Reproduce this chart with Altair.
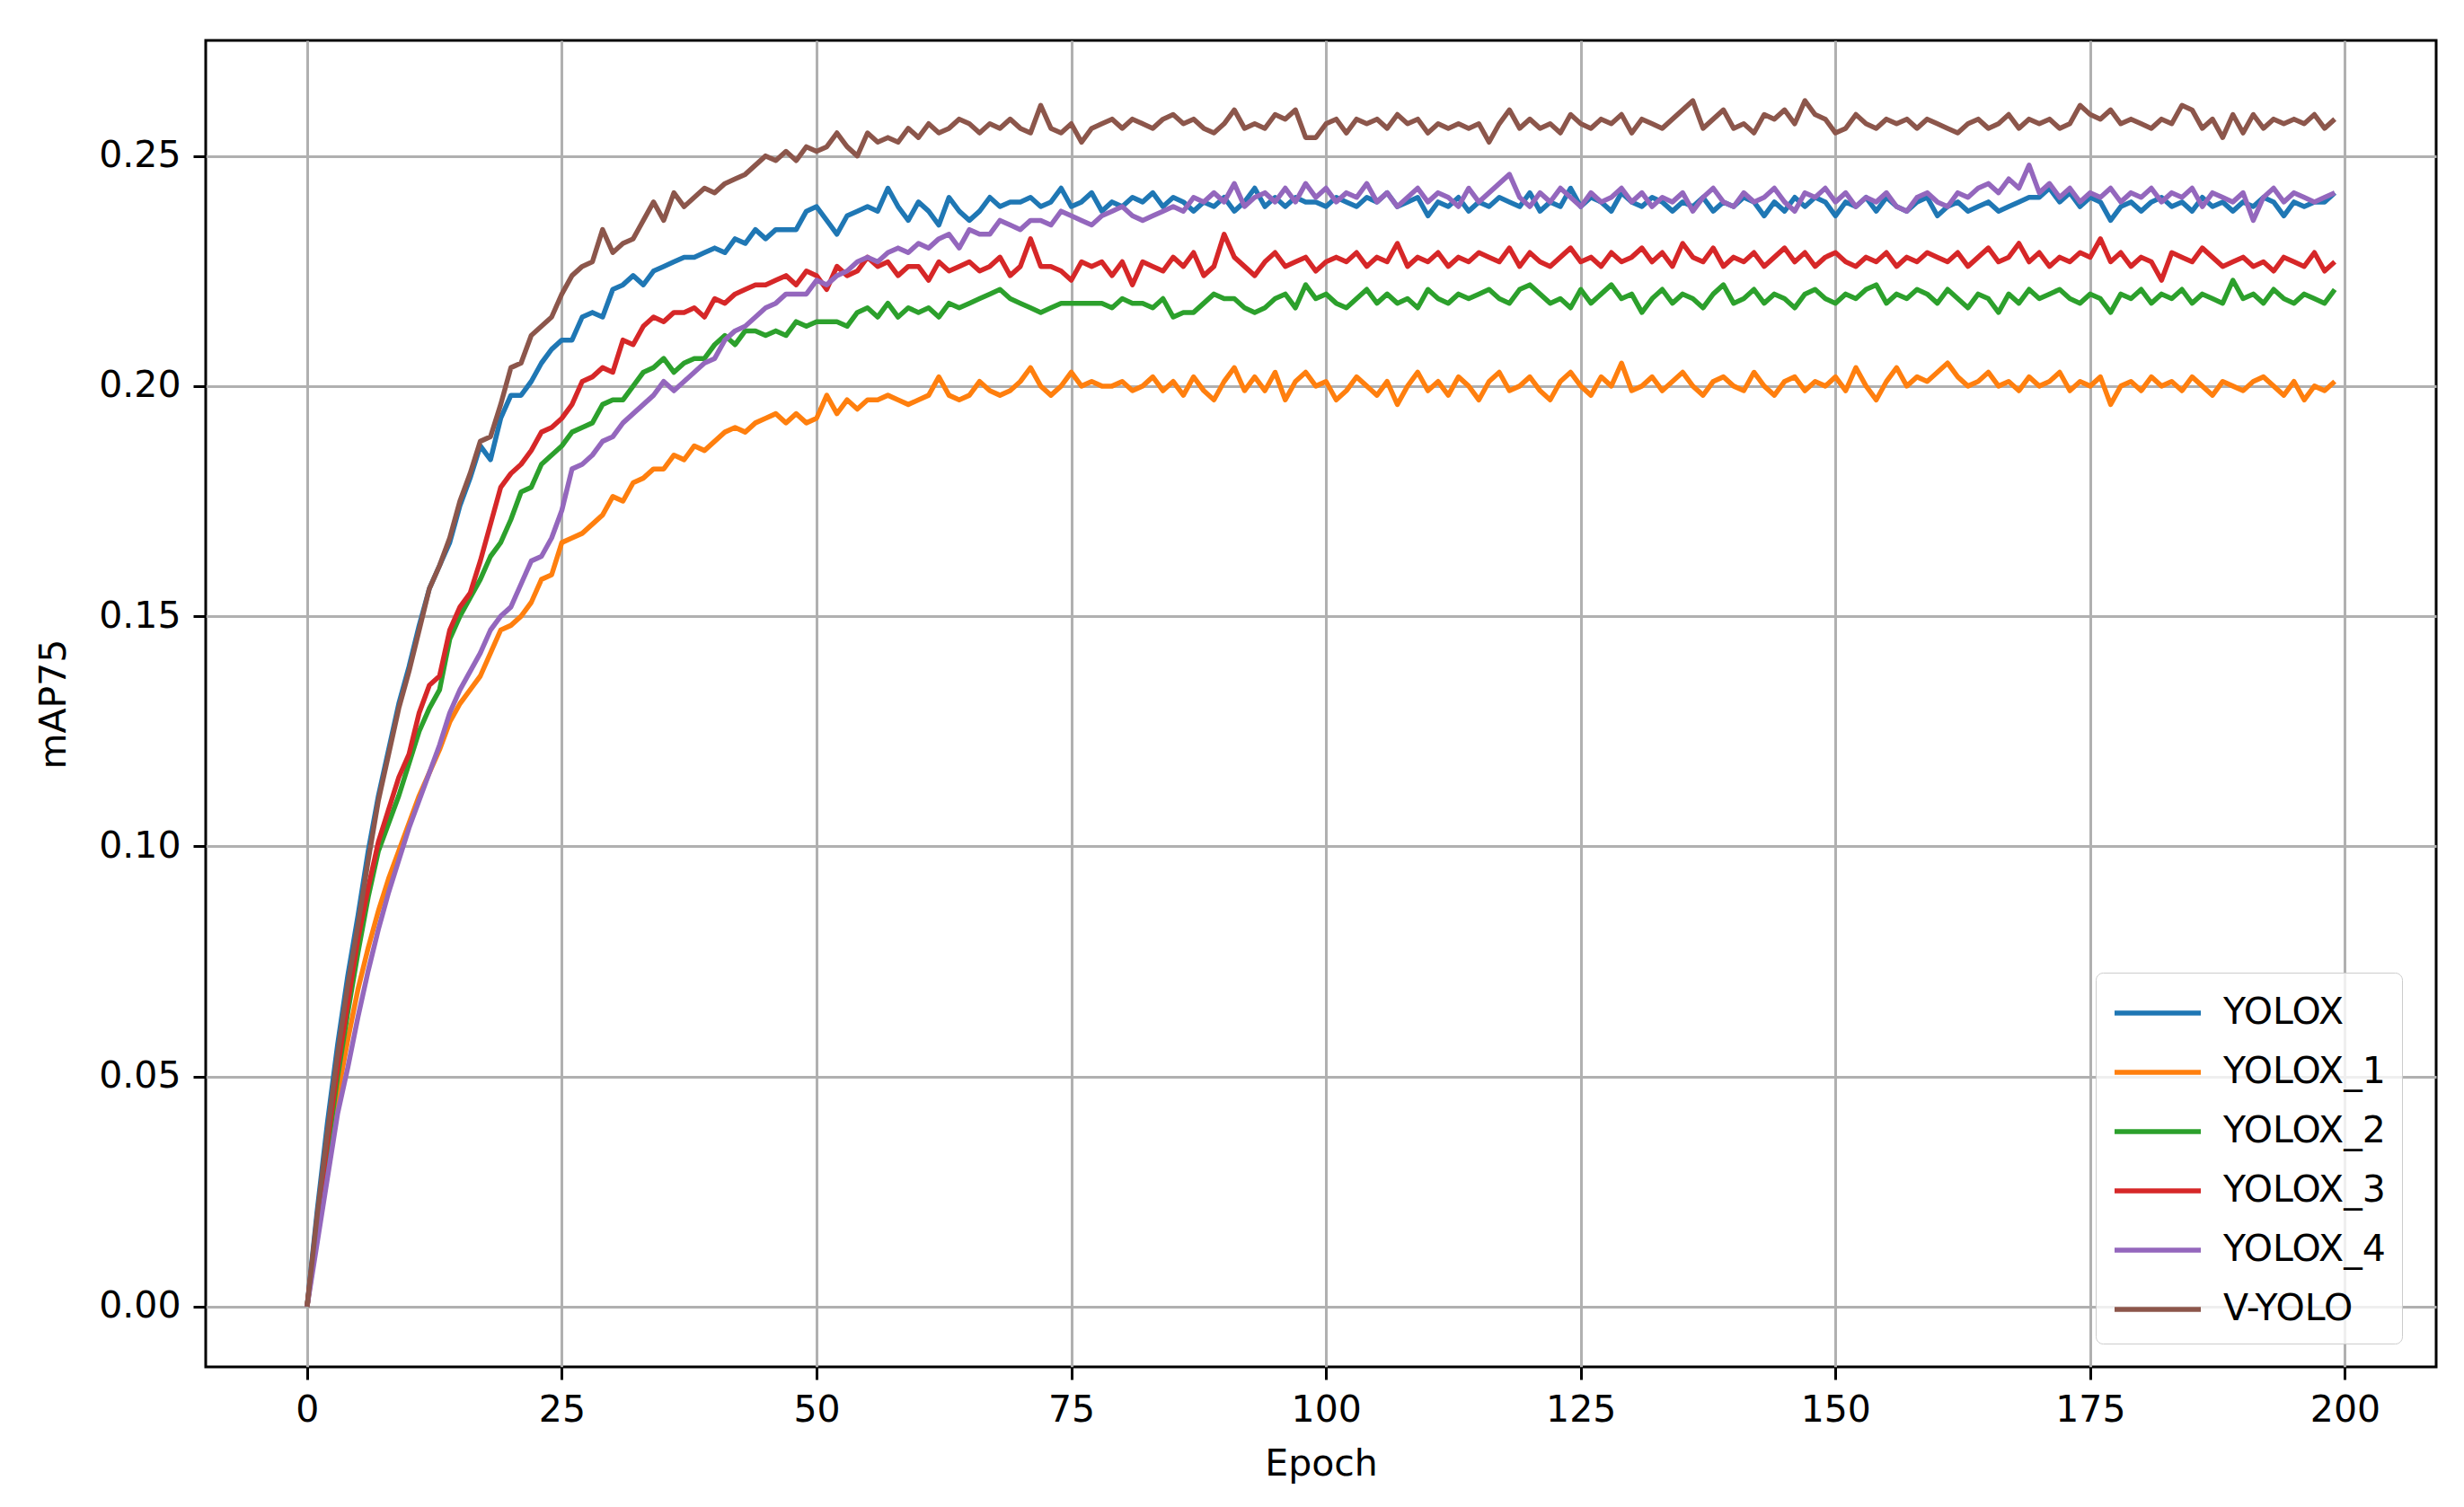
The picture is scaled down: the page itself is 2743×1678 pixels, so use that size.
import altair as alt
import pandas as pd

series_names = ["YOLOX", "YOLOX_1", "YOLOX_2", "YOLOX_3", "YOLOX_4", "V-YOLO"]
series_colors = ["#1f77b4", "#ff7f0e", "#2ca02c", "#d62728", "#9467bd", "#8c564b"]
epochs = list(range(200))

yolox = [
    0.0, 0.021, 0.040, 0.057, 0.072, 0.085, 0.099, 0.111, 0.121, 0.131,
    0.139, 0.148, 0.156, 0.161, 0.166, 0.174, 0.180, 0.187, 0.184, 0.193,
    0.198, 0.198, 0.201, 0.205, 0.208, 0.210, 0.210, 0.215, 0.216, 0.215,
    0.221, 0.222, 0.224, 0.222, 0.225, 0.226, 0.227, 0.228, 0.228, 0.229,
    0.230, 0.229, 0.232, 0.231, 0.234, 0.232, 0.234, 0.234, 0.234, 0.238,
    0.239, 0.236, 0.233, 0.237, 0.238, 0.239, 0.238, 0.243, 0.239, 0.236,
    0.240, 0.238, 0.235, 0.241, 0.238, 0.236, 0.238, 0.241, 0.239, 0.240,
    0.240, 0.241, 0.239, 0.240, 0.243, 0.239, 0.240, 0.242, 0.238, 0.240,
    0.239, 0.241, 0.240, 0.242, 0.239, 0.241, 0.240, 0.238, 0.240, 0.239,
    0.241, 0.238, 0.240, 0.243, 0.239, 0.241, 0.239, 0.241, 0.240, 0.240,
    0.239, 0.241, 0.240, 0.239, 0.241, 0.240, 0.242, 0.239, 0.240, 0.241,
    0.237, 0.240, 0.239, 0.241, 0.238, 0.240, 0.239, 0.241, 0.240, 0.239,
    0.242, 0.238, 0.240, 0.239, 0.243, 0.239, 0.241, 0.240, 0.238, 0.242,
    0.240, 0.239, 0.241, 0.240, 0.238, 0.240, 0.239, 0.241, 0.238, 0.240,
    0.239, 0.241, 0.240, 0.237, 0.240, 0.238, 0.241, 0.239, 0.241, 0.240,
    0.237, 0.240, 0.239, 0.241, 0.238, 0.241, 0.239, 0.238, 0.240, 0.241,
    0.237, 0.239, 0.240, 0.238, 0.239, 0.240, 0.238, 0.239, 0.240, 0.241,
    0.241, 0.243, 0.240, 0.242, 0.239, 0.241, 0.240, 0.236, 0.239, 0.240,
    0.238, 0.240, 0.241, 0.239, 0.240, 0.238, 0.241, 0.239, 0.240, 0.238,
    0.240, 0.239, 0.241, 0.240, 0.237, 0.240, 0.239, 0.240, 0.240, 0.242,
]

yolox_1 = [
    0.0, 0.016, 0.032, 0.046, 0.058, 0.069, 0.078, 0.086, 0.093, 0.099,
    0.105, 0.111, 0.116, 0.121, 0.127, 0.131, 0.134, 0.137, 0.142, 0.147,
    0.148, 0.150, 0.153, 0.158, 0.159, 0.166, 0.167, 0.168, 0.170, 0.172,
    0.176, 0.175, 0.179, 0.180, 0.182, 0.182, 0.185, 0.184, 0.187, 0.186,
    0.188, 0.190, 0.191, 0.190, 0.192, 0.193, 0.194, 0.192, 0.194, 0.192,
    0.193, 0.198, 0.194, 0.197, 0.195, 0.197, 0.197, 0.198, 0.197, 0.196,
    0.197, 0.198, 0.202, 0.198, 0.197, 0.198, 0.201, 0.199, 0.198, 0.199,
    0.201, 0.204, 0.200, 0.198, 0.200, 0.203, 0.200, 0.201, 0.200, 0.200,
    0.201, 0.199, 0.200, 0.202, 0.199, 0.201, 0.198, 0.202, 0.199, 0.197,
    0.201, 0.204, 0.199, 0.202, 0.199, 0.203, 0.197, 0.201, 0.203, 0.200,
    0.201, 0.197, 0.199, 0.202, 0.200, 0.198, 0.201, 0.196, 0.200, 0.203,
    0.199, 0.201, 0.198, 0.202, 0.200, 0.197, 0.201, 0.203, 0.199, 0.200,
    0.202, 0.199, 0.197, 0.201, 0.203, 0.200, 0.198, 0.202, 0.200, 0.205,
    0.199, 0.200, 0.202, 0.199, 0.201, 0.203, 0.200, 0.198, 0.201, 0.202,
    0.200, 0.199, 0.203, 0.200, 0.198, 0.201, 0.202, 0.199, 0.201, 0.200,
    0.202, 0.199, 0.204, 0.200, 0.197, 0.201, 0.204, 0.200, 0.202, 0.201,
    0.203, 0.205, 0.202, 0.200, 0.201, 0.203, 0.200, 0.201, 0.199, 0.202,
    0.200, 0.201, 0.203, 0.199, 0.201, 0.200, 0.202, 0.196, 0.200, 0.201,
    0.199, 0.202, 0.200, 0.201, 0.199, 0.202, 0.200, 0.198, 0.201, 0.200,
    0.199, 0.201, 0.202, 0.200, 0.198, 0.201, 0.197, 0.200, 0.199, 0.201,
]

yolox_2 = [
    0.0, 0.018, 0.034, 0.050, 0.064, 0.077, 0.089, 0.099, 0.105, 0.111,
    0.118, 0.125, 0.130, 0.134, 0.145, 0.150, 0.154, 0.158, 0.163, 0.166,
    0.171, 0.177, 0.178, 0.183, 0.185, 0.187, 0.190, 0.191, 0.192, 0.196,
    0.197, 0.197, 0.200, 0.203, 0.204, 0.206, 0.203, 0.205, 0.206, 0.206,
    0.209, 0.211, 0.209, 0.212, 0.212, 0.211, 0.212, 0.211, 0.214, 0.213,
    0.214, 0.214, 0.214, 0.213, 0.216, 0.217, 0.215, 0.218, 0.215, 0.217,
    0.216, 0.217, 0.215, 0.218, 0.217, 0.218, 0.219, 0.220, 0.221, 0.219,
    0.218, 0.217, 0.216, 0.217, 0.218, 0.218, 0.218, 0.218, 0.218, 0.217,
    0.219, 0.218, 0.218, 0.217, 0.219, 0.215, 0.216, 0.216, 0.218, 0.220,
    0.219, 0.219, 0.217, 0.216, 0.217, 0.219, 0.220, 0.217, 0.222, 0.219,
    0.220, 0.218, 0.217, 0.219, 0.221, 0.218, 0.220, 0.218, 0.219, 0.217,
    0.221, 0.219, 0.218, 0.220, 0.219, 0.220, 0.221, 0.219, 0.218, 0.221,
    0.222, 0.220, 0.218, 0.219, 0.217, 0.221, 0.218, 0.220, 0.222, 0.219,
    0.220, 0.216, 0.219, 0.221, 0.218, 0.220, 0.219, 0.217, 0.220, 0.222,
    0.218, 0.219, 0.221, 0.218, 0.220, 0.219, 0.217, 0.220, 0.221, 0.219,
    0.218, 0.220, 0.219, 0.221, 0.222, 0.218, 0.220, 0.219, 0.221, 0.220,
    0.218, 0.221, 0.219, 0.217, 0.220, 0.219, 0.216, 0.220, 0.218, 0.221,
    0.219, 0.220, 0.221, 0.219, 0.218, 0.220, 0.219, 0.216, 0.220, 0.219,
    0.221, 0.218, 0.220, 0.219, 0.221, 0.218, 0.220, 0.219, 0.218, 0.223,
    0.219, 0.220, 0.218, 0.221, 0.219, 0.218, 0.220, 0.219, 0.218, 0.221,
]

yolox_3 = [
    0.0, 0.019, 0.036, 0.052, 0.066, 0.080, 0.091, 0.101, 0.108, 0.115,
    0.120, 0.129, 0.135, 0.137, 0.147, 0.152, 0.155, 0.162, 0.170, 0.178,
    0.181, 0.183, 0.186, 0.190, 0.191, 0.193, 0.196, 0.201, 0.202, 0.204,
    0.203, 0.210, 0.209, 0.213, 0.215, 0.214, 0.216, 0.216, 0.217, 0.215,
    0.219, 0.218, 0.220, 0.221, 0.222, 0.222, 0.223, 0.224, 0.222, 0.225,
    0.224, 0.221, 0.226, 0.224, 0.225, 0.228, 0.226, 0.227, 0.224, 0.226,
    0.226, 0.223, 0.227, 0.225, 0.226, 0.227, 0.225, 0.226, 0.228, 0.224,
    0.226, 0.232, 0.226, 0.226, 0.225, 0.223, 0.227, 0.226, 0.227, 0.224,
    0.227, 0.222, 0.227, 0.226, 0.225, 0.228, 0.226, 0.229, 0.224, 0.226,
    0.233, 0.228, 0.226, 0.224, 0.227, 0.229, 0.226, 0.227, 0.228, 0.225,
    0.227, 0.228, 0.227, 0.229, 0.226, 0.228, 0.227, 0.231, 0.226, 0.228,
    0.227, 0.229, 0.226, 0.228, 0.227, 0.229, 0.228, 0.227, 0.230, 0.226,
    0.229, 0.227, 0.226, 0.228, 0.230, 0.227, 0.228, 0.226, 0.229, 0.227,
    0.228, 0.230, 0.227, 0.229, 0.226, 0.231, 0.228, 0.227, 0.230, 0.226,
    0.228, 0.227, 0.229, 0.226, 0.228, 0.230, 0.227, 0.229, 0.226, 0.228,
    0.229, 0.227, 0.226, 0.228, 0.227, 0.229, 0.226, 0.228, 0.227, 0.229,
    0.228, 0.227, 0.229, 0.226, 0.228, 0.230, 0.227, 0.228, 0.231, 0.227,
    0.229, 0.226, 0.228, 0.227, 0.229, 0.228, 0.232, 0.227, 0.229, 0.226,
    0.228, 0.227, 0.223, 0.229, 0.228, 0.227, 0.230, 0.228, 0.226, 0.227,
    0.228, 0.226, 0.227, 0.225, 0.228, 0.227, 0.226, 0.229, 0.225, 0.227,
]

yolox_4 = [
    0.0, 0.014, 0.028, 0.042, 0.052, 0.063, 0.073, 0.082, 0.090, 0.097,
    0.104, 0.110, 0.116, 0.122, 0.129, 0.134, 0.138, 0.142, 0.147, 0.150,
    0.152, 0.157, 0.162, 0.163, 0.167, 0.173, 0.182, 0.183, 0.185, 0.188,
    0.189, 0.192, 0.194, 0.196, 0.198, 0.201, 0.199, 0.201, 0.203, 0.205,
    0.206, 0.210, 0.212, 0.213, 0.215, 0.217, 0.218, 0.220, 0.220, 0.220,
    0.223, 0.222, 0.224, 0.225, 0.227, 0.228, 0.227, 0.229, 0.230, 0.229,
    0.231, 0.230, 0.232, 0.233, 0.230, 0.234, 0.233, 0.233, 0.236, 0.235,
    0.234, 0.236, 0.236, 0.235, 0.238, 0.237, 0.236, 0.235, 0.237, 0.238,
    0.239, 0.237, 0.236, 0.237, 0.238, 0.239, 0.238, 0.241, 0.240, 0.242,
    0.240, 0.244, 0.239, 0.241, 0.242, 0.240, 0.243, 0.240, 0.244, 0.241,
    0.243, 0.240, 0.242, 0.241, 0.244, 0.240, 0.242, 0.239, 0.241, 0.243,
    0.240, 0.242, 0.241, 0.239, 0.243, 0.240, 0.242, 0.244, 0.246, 0.241,
    0.239, 0.242, 0.240, 0.243, 0.241, 0.239, 0.242, 0.240, 0.241, 0.243,
    0.240, 0.242, 0.239, 0.241, 0.240, 0.242, 0.238, 0.241, 0.243, 0.240,
    0.239, 0.242, 0.240, 0.241, 0.243, 0.240, 0.238, 0.242, 0.241, 0.243,
    0.240, 0.242, 0.239, 0.241, 0.240, 0.242, 0.239, 0.238, 0.241, 0.242,
    0.240, 0.239, 0.242, 0.241, 0.243, 0.244, 0.242, 0.245, 0.243, 0.248,
    0.242, 0.244, 0.241, 0.243, 0.240, 0.242, 0.241, 0.243, 0.240, 0.242,
    0.241, 0.243, 0.240, 0.242, 0.241, 0.243, 0.239, 0.242, 0.241, 0.240,
    0.242, 0.236, 0.241, 0.243, 0.240, 0.242, 0.241, 0.240, 0.241, 0.242,
]

v_yolo = [
    0.0, 0.020, 0.038, 0.055, 0.070, 0.083, 0.097, 0.110, 0.120, 0.130,
    0.138, 0.147, 0.156, 0.161, 0.167, 0.175, 0.181, 0.188, 0.189, 0.196,
    0.204, 0.205, 0.211, 0.213, 0.215, 0.220, 0.224, 0.226, 0.227, 0.234,
    0.229, 0.231, 0.232, 0.236, 0.240, 0.236, 0.242, 0.239, 0.241, 0.243,
    0.242, 0.244, 0.245, 0.246, 0.248, 0.250, 0.249, 0.251, 0.249, 0.252,
    0.251, 0.252, 0.255, 0.252, 0.250, 0.255, 0.253, 0.254, 0.253, 0.256,
    0.254, 0.257, 0.255, 0.256, 0.258, 0.257, 0.255, 0.257, 0.256, 0.258,
    0.256, 0.255, 0.261, 0.256, 0.255, 0.257, 0.253, 0.256, 0.257, 0.258,
    0.256, 0.258, 0.257, 0.256, 0.258, 0.259, 0.257, 0.258, 0.256, 0.255,
    0.257, 0.260, 0.256, 0.257, 0.256, 0.259, 0.258, 0.260, 0.254, 0.254,
    0.257, 0.258, 0.255, 0.258, 0.257, 0.258, 0.256, 0.259, 0.257, 0.258,
    0.255, 0.257, 0.256, 0.257, 0.256, 0.257, 0.253, 0.257, 0.260, 0.256,
    0.258, 0.256, 0.257, 0.255, 0.259, 0.257, 0.256, 0.258, 0.257, 0.259,
    0.255, 0.258, 0.257, 0.256, 0.258, 0.260, 0.262, 0.256, 0.258, 0.260,
    0.256, 0.257, 0.255, 0.259, 0.258, 0.260, 0.257, 0.262, 0.259, 0.258,
    0.255, 0.256, 0.259, 0.257, 0.256, 0.258, 0.257, 0.258, 0.256, 0.258,
    0.257, 0.256, 0.255, 0.257, 0.258, 0.256, 0.257, 0.259, 0.256, 0.258,
    0.257, 0.258, 0.256, 0.257, 0.261, 0.259, 0.258, 0.260, 0.257, 0.258,
    0.257, 0.256, 0.258, 0.257, 0.261, 0.260, 0.256, 0.258, 0.254, 0.259,
    0.255, 0.259, 0.256, 0.258, 0.257, 0.258, 0.257, 0.259, 0.256, 0.258,
]

x_ticks = [0, 25, 50, 75, 100, 125, 150, 175, 200]
y_ticks = [0.0, 0.05, 0.10, 0.15, 0.20, 0.25]

all_series = [yolox, yolox_1, yolox_2, yolox_3, yolox_4, v_yolo]
rows = []
for name, vals in zip(series_names, all_series):
    for e, v in zip(epochs, vals):
        rows.append({"Epoch": e, "mAP75": v, "model": name})
df = pd.DataFrame(rows)

FONT = "DejaVu Sans"

chart = (
    alt.Chart(df)
    .mark_line(strokeWidth=5.5, strokeJoin="round")
    .encode(
        x=alt.X(
            "Epoch:Q",
            scale=alt.Scale(domain=[-9.95, 208.95], nice=False, zero=False),
            axis=alt.Axis(values=x_ticks, format="d", title="Epoch"),
        ),
        y=alt.Y(
            "mAP75:Q",
            scale=alt.Scale(domain=[-0.0131, 0.2751], nice=False, zero=False),
            axis=alt.Axis(values=y_ticks, format=".2f", title="mAP75"),
        ),
        color=alt.Color(
            "model:N",
            scale=alt.Scale(domain=series_names, range=series_colors),
            legend=alt.Legend(
                title=None,
                orient="none",
                legendX=2104,
                legendY=1038,
                symbolType="M-2,0H2",
                symbolSize=2304,
                symbolOffset=24,
                symbolStrokeWidth=5.5,
                labelFontSize=41,
                labelFont=FONT,
                labelColor="#000000",
                labelLimit=600,
                labelOffset=46,
                rowPadding=19,
                padding=18,
                fillColor="rgba(255,255,255,0.8)",
                strokeColor="#cccccc",
                cornerRadius=8,
            ),
        ),
        order=alt.Order("Epoch:Q"),
    )
    .properties(
        width=2483,
        height=1477,
        autosize=alt.AutoSizeParams(type="none"),
        padding={"left": 221, "top": 37, "right": 15, "bottom": 150},
    )
    .configure_view(stroke="#000000", strokeWidth=3)
    .configure_axis(
        domain=False,
        grid=True,
        gridColor="#b0b0b0",
        gridWidth=3,
        tickColor="#000000",
        tickWidth=3,
        tickSize=14,
        labelPadding=14,
        labelFontSize=41,
        labelFont=FONT,
        labelColor="#000000",
        titleFontSize=41,
        titleFont=FONT,
        titleFontWeight="normal",
        titleColor="#000000",
    )
    .configure_axisX(titlePadding=20)
    .configure_axisY(titlePadding=28)
)

chart.save("out.html", embed_options={"renderer": "svg", "actions": False})
